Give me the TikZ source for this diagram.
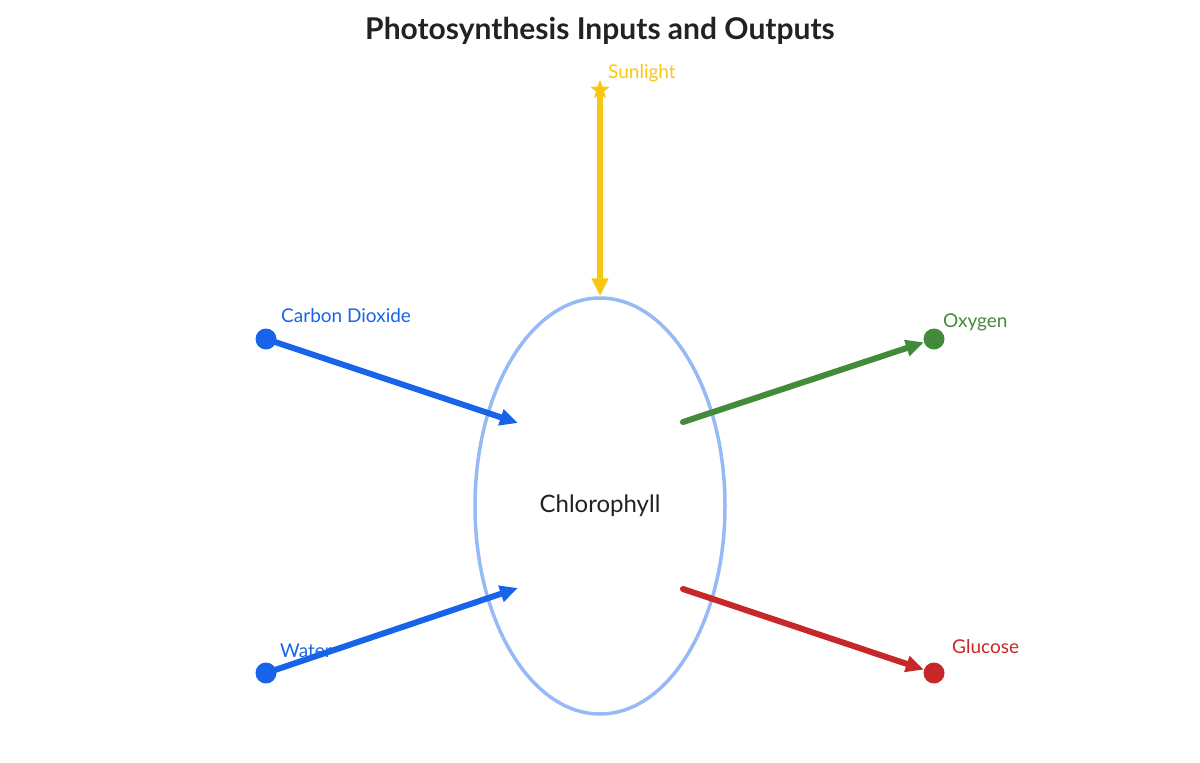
\documentclass[tikz,border=0pt]{standalone}
\usepackage{fontspec}
\setmainfont{Lato}
\usetikzlibrary{arrows.meta,shapes.geometric}
\definecolor{cblue}{RGB}{24,100,232}
\definecolor{cgreen}{RGB}{67,138,58}
\definecolor{cred}{RGB}{198,40,40}
\definecolor{cyellow}{RGB}{250,198,20}
\definecolor{cell}{RGB}{150,186,245}
\definecolor{ctext}{RGB}{34,34,34}
\begin{document}
\begin{tikzpicture}[x=1pt,y=-1pt,
  lbl/.style={anchor=west,font=\fontsize{19}{22}\selectfont,inner sep=0pt},
  dotnode/.style={circle,fill=#1,minimum size=21pt,inner sep=0pt},
  flow/.style={draw=#1,line width=6pt,-{Triangle[length=18pt,width=16pt]}},
]
\useasboundingbox (0,0) rectangle (1200,763);
\node[font=\bfseries\fontsize{30}{34}\selectfont,text=ctext] (title) at (600,31) {Photosynthesis Inputs and Outputs};
\node[ellipse,draw=cell,line width=3.5pt,minimum width=250pt,minimum height=416pt,inner sep=0pt] (chl) at (600,506) {};
\node[font=\fontsize{24}{28}\selectfont,text=ctext] (chlt) at (600,506) {Chlorophyll};
% labels
\node[lbl,text=cyellow] (sunl) at (608,73) {Sunlight};
\node[lbl,text=cblue] (co2l) at (281,316) {Carbon Dioxide};
\node[lbl,text=cblue] (wl) at (280,651) {Water};
\node[lbl,text=cgreen] (ol) at (943,322) {Oxygen};
\node[lbl,text=cred] (gl) at (952,647) {Glucose};
% source/sink points
\node[star,star points=5,star point ratio=2.3,fill=cyellow,minimum size=20pt,inner sep=0pt] (sun) at (600,90) {};
\node[dotnode=cblue] (co2) at (266,339) {};
\node[dotnode=cblue] (water) at (266,673) {};
\node[dotnode=cgreen] (oxy) at (934,339) {};
\node[dotnode=cred] (glu) at (934,673) {};
\coordinate (inA) at (518,423);
\coordinate (inB) at (518,588);
\coordinate (outA) at (683,422);
\coordinate (outB) at (683,589);
% connectors
\draw[flow=cyellow] (sun.center) -- (chl.north);
\draw[flow=cblue] (co2.center) -- (inA);
\draw[flow=cblue] (water.center) -- (inB);
\draw[flow=cgreen,line cap=round] (outA) -- (oxy);
\draw[flow=cred,line cap=round] (outB) -- (glu);
\end{tikzpicture}
\end{document}
